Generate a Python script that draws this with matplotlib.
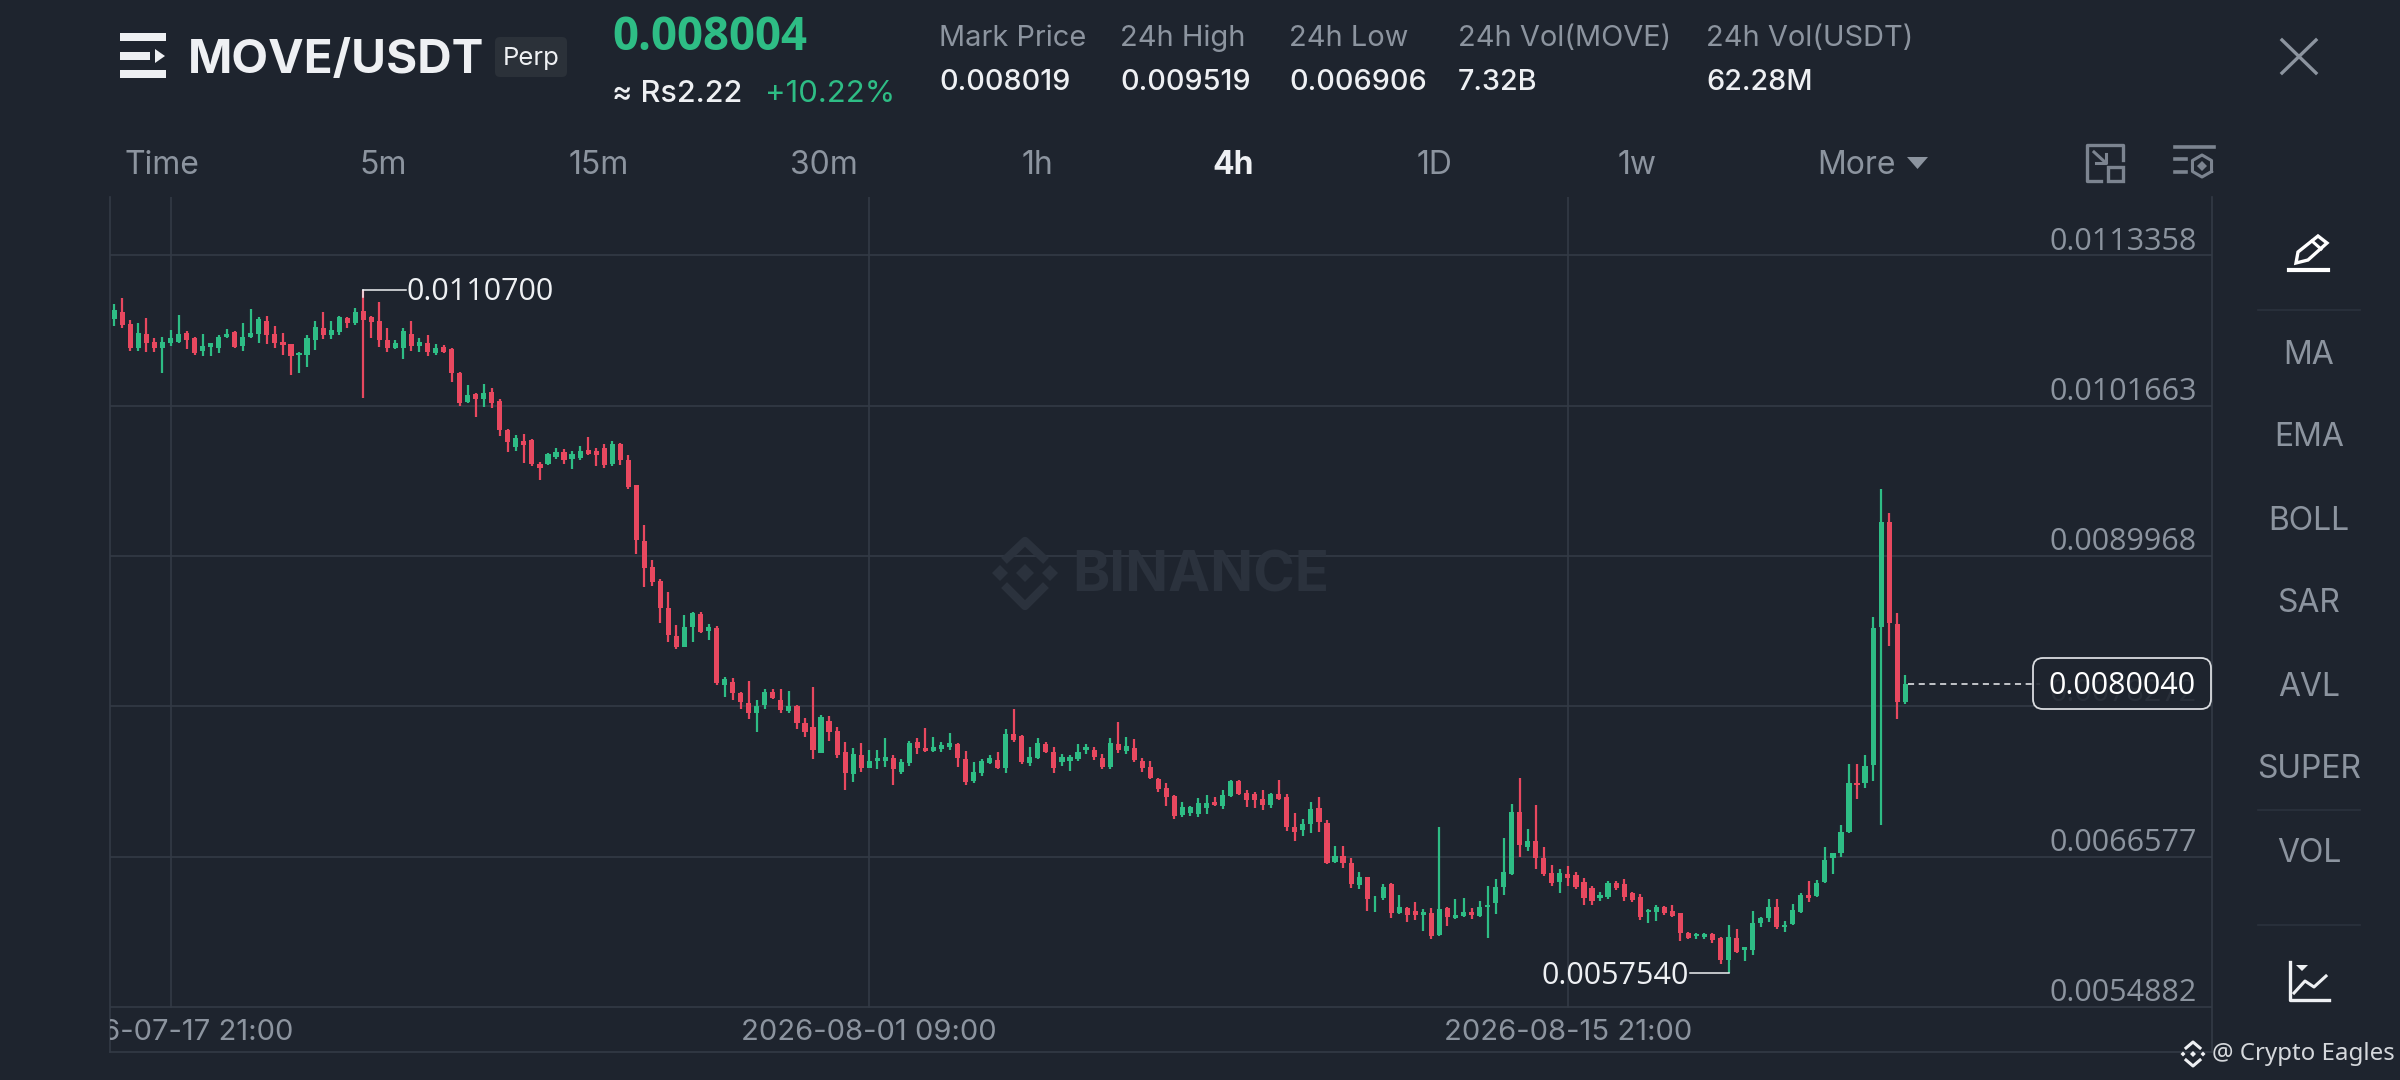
import matplotlib
matplotlib.use('Agg')
import matplotlib.pyplot as plt
from matplotlib.patches import FancyBboxPatch, Polygon, Rectangle
import numpy as np

plt.rcParams['font.family'] = ['Inter', 'DejaVu Sans']
NUM_FONT = ['Open Sans', 'DejaVu Sans']  # 图表数字用等宽数字

# 价格单位: 1e-6 USDT
opens = [10838,10893,10802,10613,10724,10665,10613,10652,10665,10730,
         10691,10595,10626,10613,10698,10743,10631,10698,10724,10828,
         10724,10665,10647,10561,10561,10678,10768,10717,10743,10846,
         10807,10906,10854,10828,10678,10613,10613,10724,10631,10652,
         10574,10621,10605,10424,10198,10258,10216,10273,10206,9978,
         9848,9892,9900,9713,9713,9770,9809,9749,9757,9822,
         9817,9835,9713,9869,9744,9547,9116,8909,8805,8590,
         8375,8292,8442,8546,8416,8434,7994,8019,7929,7851,
         7778,7838,7942,7877,7794,7830,7701,7669,7467,7716,
         7638,7475,7301,7449,7350,7405,7405,7423,7319,7384,
         7553,7501,7483,7493,7509,7535,7415,7249,7312,7389,
         7410,7350,7612,7597,7384,7423,7535,7475,7397,7405,
         7415,7488,7488,7423,7353,7535,7483,7501,7405,7353,
         7259,7189,7129,6982,7000,6989,7033,7085,7052,7129,
         7249,7150,7145,7103,7059,7145,7124,6891,6865,6912,
         7033,6917,6619,6663,6611,6437,6497,6341,6333,6442,
         6222,6256,6237,6204,6222,6048,6256,6178,6199,6230,
         6196,6263,6294,6424,6523,7008,6735,6782,6645,6528,
         6463,6523,6515,6463,6411,6333,6346,6450,6445,6372,
         6341,6230,6230,6269,6237,6217,6067,6041,6036,6056,
         6023,5854,6023,5932,5932,6140,6178,6269,6114,6134,
         6230,6360,6352,6464,6645,6684,6853,7234,7229,7371,
         8442,9264,8468,7859]
closes = [10911,10794,10613,10735,10657,10613,10665,10691,10724,10678,
          10574,10631,10652,10698,10724,10621,10704,10735,10838,10717,
          10657,10639,10553,10574,10691,10781,10717,10755,10854,10807,
          10898,10833,10820,10678,10613,10652,10750,10631,10665,10587,
          10613,10587,10418,10185,10250,10216,10263,10185,9978,9887,
          9913,9861,9713,9679,9791,9809,9744,9791,9817,9791,
          9783,9705,9869,9744,9537,9122,8901,8797,8590,8383,
          8292,8442,8551,8408,8442,8007,8038,7929,7864,7778,
          7830,7942,7890,7799,7830,7695,7631,7488,7742,7631,
          7449,7306,7457,7345,7405,7423,7436,7338,7397,7545,
          7501,7483,7514,7527,7545,7423,7242,7319,7405,7423,
          7345,7612,7566,7397,7436,7545,7475,7345,7431,7431,
          7475,7514,7431,7353,7545,7488,7519,7410,7345,7268,
          7181,7124,6974,7041,7041,7078,7078,7059,7137,7249,
          7145,7098,7098,7059,7145,7103,6891,6852,6912,7026,
          6930,6611,6665,6606,6445,6502,6326,6346,6424,6222,
          6263,6204,6204,6230,6040,6248,6186,6204,6230,6204,
          6269,6282,6424,6541,7008,6748,6782,6645,6523,6450,
          6528,6489,6424,6333,6315,6359,6455,6411,6341,6320,
          6191,6243,6269,6222,6196,6066,6023,6056,6056,6010,
          5854,6031,5919,5953,6140,6178,6269,6108,6127,6243,
          6360,6334,6456,6632,6684,6853,7234,7216,7363,8434,
          9264,8473,7864,8004]
highs = [10955,11004,10833,10807,10846,10696,10704,10755,10872,10748,
         10704,10724,10657,10717,10763,10748,10807,10916,10859,10867,
         10789,10735,10647,10584,10714,10825,10895,10825,10867,10859,
         10927,11070,10867,10976,10774,10678,10774,10825,10696,10717,
         10647,10636,10615,10431,10325,10268,10335,10307,10216,9985,
         9939,9949,9908,9729,9796,9835,9827,9817,9856,9926,
         9835,9869,9895,9879,9783,9549,9236,8966,8816,8714,
         8458,8538,8559,8559,8468,8455,8058,8051,7942,8027,
         7877,7960,7960,7960,7949,7838,7734,7981,7760,7752,
         7664,7553,7501,7540,7488,7488,7579,7449,7418,7558,
         7579,7656,7586,7553,7618,7540,7480,7397,7418,7446,
         7470,7649,7807,7605,7509,7579,7548,7514,7454,7446,
         7535,7535,7514,7457,7579,7708,7586,7571,7428,7405,
         7267,7233,7137,7085,7052,7111,7137,7124,7176,7254,
         7254,7176,7163,7176,7150,7254,7145,7000,6948,7085,
         7124,6943,6740,6740,6650,6536,6502,6352,6442,6450,
         6359,6269,6307,6250,6256,6891,6269,6326,6333,6256,
         6313,6429,6481,6800,7065,7267,6870,7057,6735,6590,
         6559,6585,6536,6489,6432,6385,6468,6471,6481,6385,
         6364,6248,6282,6274,6282,6222,6075,6062,6062,6067,
         6031,6127,6093,5958,6238,6186,6326,6326,6155,6290,
         6373,6471,6477,6731,6689,6902,7379,7382,7449,8520,
         9519,9329,8556,8071]
lows = [10787,10774,10595,10595,10587,10587,10424,10634,10652,10605,
        10561,10553,10553,10574,10691,10613,10595,10691,10657,10647,
        10618,10564,10405,10424,10470,10600,10685,10683,10717,10771,
        10794,10226,10691,10621,10587,10605,10532,10595,10584,10553,
        10564,10574,10354,10164,10190,10076,10156,10146,9933,9804,
        9812,9723,9698,9589,9703,9749,9713,9674,9744,9783,
        9698,9685,9698,9705,9516,9013,8758,8766,8478,8331,
        8276,8287,8325,8395,8344,7994,7898,7877,7809,7729,
        7625,7807,7885,7773,7773,7649,7586,7418,7462,7558,
        7428,7177,7239,7317,7345,7338,7358,7216,7299,7363,
        7457,7475,7470,7470,7488,7358,7216,7229,7288,7379,
        7338,7312,7553,7376,7366,7415,7467,7306,7366,7327,
        7402,7457,7410,7338,7338,7467,7457,7397,7319,7260,
        7163,7052,6951,6963,6974,6963,6987,7052,7026,7119,
        7135,7046,7033,7021,7033,7098,6857,6779,6818,6844,
        6852,6600,6611,6572,6414,6406,6235,6230,6320,6178,
        6211,6152,6165,6082,6020,6043,6118,6170,6191,6175,
        6186,6022,6211,6359,6515,6652,6704,6559,6507,6432,
        6372,6432,6406,6282,6284,6315,6326,6398,6315,6305,
        6165,6139,6160,6204,6191,6004,6015,6015,6015,5984,
        5823,5754,5906,5849,5893,6108,6152,6098,6075,6124,
        6217,6305,6342,6456,6523,6658,6845,7109,7195,7249,
        6904,8297,7729,7846]

price_ticks = [0.0113358, 0.0101663, 0.0089968, 0.0078272, 0.0066577, 0.0054882]
price_labels = ['0.0113358', '0.0101663', '0.0089968', '0.0078272', '0.0066577', '0.0054882']
time_ticks = [7, 94, 181]
time_labels = ['2026-07-17 21:00', '2026-08-01 09:00', '2026-08-15 21:00']
high_idx, high_label = 31, '0.0110700'
low_idx, low_label = 201, '0.0057540'
last_label = '0.0080040'

tabs = ['Time', '5m', '15m', '30m', '1h', '4h', '1D', '1w']
tab_x = [162, 383, 599, 824, 1037, 1233, 1435, 1637]
stat_names = ['Mark Price', '24h High', '24h Low', '24h Vol(MOVE)', '24h Vol(USDT)']
stat_values = ['0.008019', '0.009519', '0.006906', '7.32B', '62.28M']
stat_x = [939, 1120, 1289, 1458, 1706]
tools = ['MA', 'EMA', 'BOLL', 'SAR', 'AVL', 'SUPER', 'VOL']
tool_y = [354, 437, 520, 603, 686, 769, 853]

BG = '#1e242e'
GRID = '#333a45'
GREEN = '#2ebd85'
RED = '#e8485f'
GREY = '#8c949f'
WHITE = '#eef0f3'

fig = plt.figure(figsize=(24, 10.8), dpi=100, facecolor=BG)

# 整张图的界面层, 用像素坐标
ui = fig.add_axes([0, 0, 1, 1])
ui.set_xlim(0, 2400)
ui.set_ylim(1080, 0)
ui.axis('off')

# K线图
L, R, T, B = 110, 2212, 197, 1052
ax = fig.add_axes([L / 2400, 1 - B / 1080, (R - L) / 2400, (B - T) / 1080])
ax.patch.set_alpha(0)
ax.set_xlim(-0.535, 261.2)
ax.set_ylim(0.0051379, 0.0117898)
for s in ['top', 'bottom', 'left', 'right']:
    ax.spines[s].set_color(GRID)
    ax.spines[s].set_linewidth(1.2)
ax.spines['top'].set_visible(False)
ax.set_xticks([])
ax.set_yticks([])

o = np.array(opens) * 1e-6
c = np.array(closes) * 1e-6
h = np.array(highs) * 1e-6
l = np.array(lows) * 1e-6
x = np.arange(len(o))
col = [GREEN if c[i] >= o[i] else RED for i in x]

for v, lab in zip(price_ticks, price_labels):
    ax.axhline(v, color=GRID, lw=1.2, zorder=1)
    ax.annotate(lab, xy=(1, v), xycoords=ax.get_yaxis_transform(), xytext=(-11, 4.0),
                textcoords='offset points', ha='right', va='baseline', fontsize=22, color=GREY,
                zorder=1, family=NUM_FONT)
for t, lab in zip(time_ticks, time_labels):
    ax.plot([t, t], [0.0054882, 0.0117898], color=GRID, lw=1.2, zorder=1)
    ax.text(t, 0.00529, lab, ha='center', va='center', fontsize=21, color=GREY, clip_on=True)

ax.vlines(x, l, h, colors=col, lw=1.6, zorder=3)
ax.bar(x, np.abs(c - o), bottom=np.minimum(o, c), width=0.64, color=col, zorder=3)

# 最高 / 最低 标注
ax.plot([high_idx, high_idx + 5.3], [h[high_idx], h[high_idx]], color=WHITE, lw=1.1, zorder=4)
ax.plot([high_idx, high_idx], [h[high_idx], h[high_idx] - 0.00006], color=WHITE, lw=1.1, zorder=4)
ax.annotate(high_label, xy=(high_idx + 5.4, h[high_idx]), xytext=(0, -2), textcoords='offset points',
            va='center', ha='left', fontsize=22, color=WHITE, family=NUM_FONT)
ax.plot([low_idx - 4.8, low_idx], [l[low_idx], l[low_idx]], color=WHITE, lw=1.1, zorder=4)
ax.annotate(low_label, xy=(low_idx - 4.9, l[low_idx]), xytext=(0, -2), textcoords='offset points',
            va='center', ha='right', fontsize=22, color=WHITE, family=NUM_FONT)

# 现价
ax.plot([x[-1] + 0.4, 239.8], [c[-1], c[-1]], color=WHITE, lw=1.1, dashes=(4, 3), zorder=4)
ui.add_patch(FancyBboxPatch((2040, 665), 164, 37, boxstyle='round,pad=7,rounding_size=10',
                            fc=BG, ec=WHITE, lw=1.3, alpha=0.9, zorder=5))
ui.set_zorder(ax.get_zorder() + 1)
ui.patch.set_alpha(0)
ui.text(2122, 686, last_label, ha='center', va='center', fontsize=22, color='white', zorder=6, family=NUM_FONT)

# 水印
wm = '#2b323d'
ui.text(1072, 577, 'BINANCE', fontsize=40.5, fontweight='bold', color=wm, va='center', ha='left', zorder=0)
for px, py, r in [(1025, 573, 9), (1000, 573, 8), (1050, 573, 8)]:
    ui.add_patch(Polygon([(px - r, py), (px, py - r), (px + r, py), (px, py + r)], fc=wm, ec='none'))
ui.plot([1007, 1025, 1043], [558, 541, 558], color=wm, lw=6)
ui.plot([1007, 1025, 1043], [588, 606, 588], color=wm, lw=6)

# 顶栏
for yy in [33, 52, 70]:
    w = 30 if yy == 52 else 46
    ui.add_patch(Rectangle((120, yy), w, 8, fc=WHITE, ec='none'))
ui.add_patch(Polygon([(155, 49), (165, 56), (155, 63)], fc=WHITE, ec='none'))
ui.text(188, 61, 'MOVE/USDT', fontsize=34.3, fontweight='bold', color=WHITE, va='center')
ui.add_patch(FancyBboxPatch((498, 40), 66, 34, boxstyle='round,pad=3,rounding_size=5', fc='#2b3139', ec='none'))
ui.text(531, 58, 'Perp', fontsize=18.5, color=WHITE, ha='center', va='center')
ui.text(612, 37, '0.008004', fontsize=32.8, fontweight='bold', color=GREEN, va='center', family=NUM_FONT)
ui.text(612, 94, '≈ Rs2.22', fontsize=22, color=WHITE, va='center', fontweight='medium')
ui.text(765, 94, '+10.22%', fontsize=22.3, color=GREEN, va='center')
for sx, name, val in zip(stat_x, stat_names, stat_values):
    ui.text(sx, 38, name, fontsize=20.9, color=GREY, va='center')
    ui.text(sx, 83, val, fontsize=20.7, color=WHITE, va='center', fontweight='medium')
ui.plot([2282, 2316], [40, 73], color=GREY, lw=2.4)
ui.plot([2282, 2316], [73, 40], color=GREY, lw=2.4)

# 周期
for tx, tab in zip(tab_x, tabs):
    if tab == '4h':
        ui.text(tx, 165, tab, fontsize=23, color=WHITE, ha='center', va='center', fontweight='bold')
    else:
        ui.text(tx, 165, tab, fontsize=23, color=GREY, ha='center', va='center')
ui.text(1857, 165, 'More', fontsize=23, color=GREY, ha='center', va='center')
ui.add_patch(Polygon([(1907, 157), (1928, 157), (1917.5, 169)], fc=GREY, ec='none'))

ic = '#7c8490'
ui.plot([2101, 2087, 2087, 2123, 2123], [181, 181, 145, 145, 160], color=ic, lw=2.4)
ui.add_patch(Rectangle((2108, 167), 15, 14, fc='none', ec=ic, lw=2.4))
ui.plot([2094, 2106], [152, 163], color=ic, lw=2.2)
ui.plot([2106, 2106, 2096], [154, 163, 163], color=ic, lw=2.2)
ui.plot([2175, 2214], [147, 147], color=ic, lw=2.6)
ui.plot([2175, 2186], [159, 159], color=ic, lw=2.6)
ui.plot([2175, 2186], [172, 172], color=ic, lw=2.6)
ang = np.deg2rad(np.arange(30, 391, 60))
ui.plot(2202 + 11 * np.cos(ang), 166 + 11 * np.sin(ang), color=ic, lw=2.2)
ui.add_patch(Polygon([(2197, 166), (2202, 161), (2207, 166), (2202, 171)], fc=ic, ec='none'))

# 右侧工具栏
ui.plot([2289, 2328], [270, 270], color='white', lw=3)
ui.add_patch(Polygon([(2296, 263), (2298, 252), (2318, 236), (2327, 243), (2308, 260)],
                     fc='none', ec='white', lw=2.4))
ui.plot([2312, 2321], [241, 249], color='white', lw=2.2)
for sy in [310, 810, 925]:
    ui.plot([2258, 2360], [sy, sy], color='#2b323d', lw=1.2)
for ty, tool in zip(tool_y, tools):
    ui.text(2309, ty + 1, tool, fontsize=23, color=GREY, ha='center', va='center')
ui.plot([2290, 2290, 2329], [962, 1000, 1000], color=WHITE, lw=2.4)
ui.plot([2294, 2305, 2314, 2326], [993, 981, 987, 976], color=WHITE, lw=2.2)
ui.add_patch(Polygon([(2296, 965), (2308, 965), (2302, 971)], fc=WHITE, ec='none'))

# 右下角水印
for px, py, r in [(2193, 1054, 3), (2183, 1054, 2.5), (2203, 1054, 2.5)]:
    ui.add_patch(Polygon([(px - r, py), (px, py - r), (px + r, py), (px, py + r)], fc=WHITE, ec='none'))
ui.plot([2186, 2193, 2200], [1048, 1042, 1048], color=WHITE, lw=2.2)
ui.plot([2186, 2193, 2200], [1060, 1066, 1060], color=WHITE, lw=2.2)
ui.text(2212, 1054, '@ Crypto Eagles', fontsize=17.3, color='#d5d8dc', va='center', ha='left',
        family=['Noto Sans', 'DejaVu Sans'])

fig.savefig('out.png', dpi=100, facecolor=BG)
